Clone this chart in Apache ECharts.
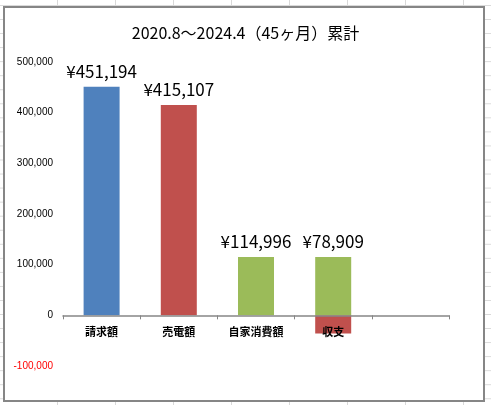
<!DOCTYPE html>
<html lang="ja">
<head>
    <meta charset="UTF-8">
    <title>2020.8～2024.4（45ヶ月）累計</title>
    <script src="https://cdn.jsdelivr.net/npm/echarts@6/dist/echarts.min.js"></script>
    <style>
        body { margin: 0; }
        #main {
            width: 491px;
            height: 405px;
            background-color: #fff;
            background-image: linear-gradient(to right, #d9d9d9 1px, transparent 1px),
                              linear-gradient(to bottom, #d9d9d9 1px, transparent 1px);
            background-size: 58px 14.05px;
            background-position: 57px 5px;
        }
    </style>
</head>
<body>
    <div id="main"></div>
    <script>
        // カテゴリ（最後は空欄）
        var categories = ['請求額', '売電額', '自家消費額', '収支', ''];
        // 積み上げ棒の値
        var billData = [451194, null, null, null, null];
        var sellData = [null, 415107, null, -36087, null];
        var selfData = [null, null, 114996, 114996, null];
        // 棒の上に出す金額
        var totals = [451194, 415107, 114996, 78909, null];
        var yTicks = [-100000, 0, 100000, 200000, 300000, 400000, 500000];

        function yen(v) {
            return '¥' + v.toLocaleString('en-US');
        }

        function labelFor(show) {
            return {
                show: true,
                position: 'top',
                distance: 7,
                fontFamily: 'Noto Sans CJK JP',
                fontSize: 17,
                color: '#000',
                formatter: function (p) {
                    return show.indexOf(p.dataIndex) >= 0 ? yen(totals[p.dataIndex]) : '';
                }
            };
        }

        var chart = echarts.init(document.getElementById('main'));

        var option = {
            backgroundColor: 'transparent',
            animation: false,
            title: {
                text: '2020.8～2024.4（45ヶ月）累計',
                left: 'center',
                top: 20,
                textStyle: {
                    fontFamily: 'Noto Sans CJK JP',
                    fontSize: 16,
                    fontWeight: 'normal',
                    color: '#000'
                }
            },
            graphic: [{
                type: 'rect',
                z: -1,
                shape: { x: 4, y: 7, width: 480, height: 394 },
                style: { fill: '#fff', stroke: '#868686', lineWidth: 2 }
            }],
            grid: { left: 63, right: 42, top: 62, bottom: 39 },
            xAxis: {
                type: 'category',
                data: categories,
                z: 5,
                axisLine: { onZero: true, lineStyle: { color: '#868686', width: 1.5 } },
                axisTick: { show: true, length: 4, lineStyle: { color: '#868686' } },
                axisLabel: {
                    margin: -40,
                    fontFamily: 'Noto Sans CJK JP',
                    fontSize: 11,
                    fontWeight: 'bold',
                    color: '#000'
                },
                splitLine: { show: false }
            },
            yAxis: {
                type: 'value',
                min: yTicks[0],
                max: yTicks[yTicks.length - 1],
                interval: 100000,
                axisLine: { show: false },
                axisTick: { show: false },
                splitLine: { show: false },
                axisLabel: {
                    margin: 10,
                    fontFamily: 'Liberation Sans',
                    fontSize: 10,
                    color: function (v) {
                        return v < 0 ? '#ff0000' : '#000';
                    },
                    formatter: function (v) {
                        return v.toLocaleString('en-US');
                    }
                }
            },
            series: [
                {
                    name: '請求額',
                    type: 'bar',
                    stack: 'total',
                    barWidth: 36,
                    data: billData,
                    itemStyle: { color: '#4f81bd' },
                    label: labelFor([0])
                },
                {
                    name: '売電額',
                    type: 'bar',
                    stack: 'total',
                    barWidth: 36,
                    data: sellData,
                    itemStyle: { color: '#c0504d' },
                    label: labelFor([1])
                },
                {
                    name: '自家消費額',
                    type: 'bar',
                    stack: 'total',
                    barWidth: 36,
                    data: selfData,
                    itemStyle: { color: '#9bbb59' },
                    label: labelFor([2, 3])
                }
            ]
        };

        chart.setOption(option);
    </script>
</body>
</html>
